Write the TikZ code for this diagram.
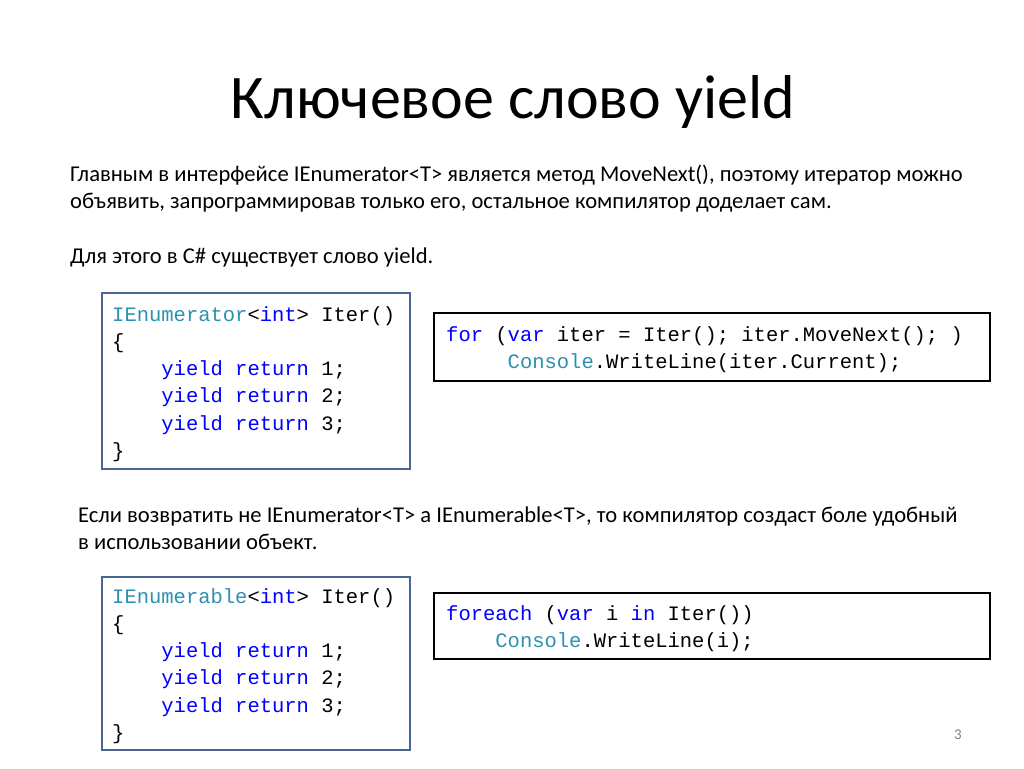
\documentclass[tikz,border=0pt]{standalone}
\usepackage{fontspec}
\setmainfont{Carlito}
\setmonofont{Liberation Mono}
\usetikzlibrary{positioning}
\definecolor{kwblue}{HTML}{0000FF}
\definecolor{tyteal}{HTML}{2B91AF}
\definecolor{boxblue}{HTML}{4A6690}
\newcommand\kw[1]{\textcolor{kwblue}{#1}}
\newcommand\ty[1]{\textcolor{tyteal}{#1}}
\tikzset{
  txt/.style={anchor=base west,inner sep=0pt,font=\fontsize{22.6}{27}\selectfont},
  code/.style={anchor=base west,inner sep=0pt,font=\ttfamily\fontsize{20.5}{27}\selectfont},
  leftbox/.style={draw=boxblue,line width=2.4pt},
  rightbox/.style={draw=black,line width=1.2pt}
}
\begin{document}
\begin{tikzpicture}[x=1pt,y=-1pt]
\useasboundingbox (0,0) rectangle (1024,768);
\node[anchor=base,inner sep=0pt,font=\fontsize{62}{64}\selectfont] (title) at (513,118) {Ключевое слово yield};
\node[txt] (p1) at (70,181) {Главным в интерфейсе IEnumerator<T> является метод MoveNext(), поэтому итератор можно};
\node[txt] (p2) at (70,208) {объявить, запрограммировав только его, остальное компилятор доделает сам.};
\node[txt] (p3) at (70,263) {Для этого в C\# существует слово yield.};
\node[txt] (p4) at (78,522) {Если возвратить не IEnumerator<T> а IEnumerable<T>, то компилятор создаст боле удобный};
\node[txt] (p5) at (78,549) {в использовании объект.};
% first pair
\draw[leftbox] (102,293) rectangle (410,469);
\node[code] (a1) at (112,321) {\ty{IEnumerator}<\kw{int}> Iter()};
\node[code] (a2) at (112,348) {\{};
\node[code] (a3) at (112,375) {\phantom{xxxx}\kw{yield} \kw{return} 1;};
\node[code] (a4) at (112,402) {\phantom{xxxx}\kw{yield} \kw{return} 2;};
\node[code] (a5) at (112,430) {\phantom{xxxx}\kw{yield} \kw{return} 3;};
\node[code] (a6) at (112,457) {\}};
\draw[rightbox] (434,313) rectangle (990,381);
\node[code] (b1) at (446,341) {\kw{for} (\kw{var} iter = Iter(); iter.MoveNext(); )};
\node[code] (b2) at (446,368) {\phantom{xxxxx}\ty{Console}.WriteLine(iter.Current);};
% second pair
\draw[leftbox] (102,577) rectangle (410,750);
\node[code] (c1) at (112,603) {\ty{IEnumerable}<\kw{int}> Iter()};
\node[code] (c2) at (112,630) {\{};
\node[code] (c3) at (112,657) {\phantom{xxxx}\kw{yield} \kw{return} 1;};
\node[code] (c4) at (112,684) {\phantom{xxxx}\kw{yield} \kw{return} 2;};
\node[code] (c5) at (112,712) {\phantom{xxxx}\kw{yield} \kw{return} 3;};
\node[code] (c6) at (112,739) {\}};
\draw[rightbox] (434,593) rectangle (990,659);
\node[code] (d1) at (446,620) {\kw{foreach} (\kw{var} i \kw{in} Iter())};
\node[code] (d2) at (446,647) {\phantom{xxxx}\ty{Console}.WriteLine(i);};
\node[anchor=base,inner sep=0pt,text=gray,font=\fontsize{15}{18}\selectfont] (num) at (958,739) {3};
\end{tikzpicture}
\end{document}
